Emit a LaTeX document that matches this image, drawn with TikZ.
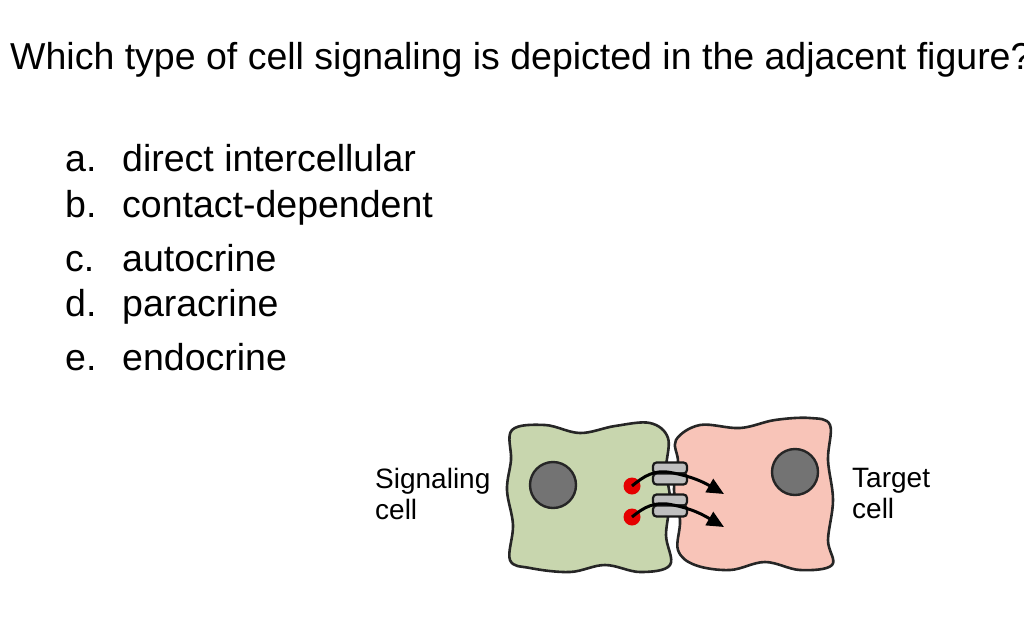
\documentclass[tikz,border=0pt]{standalone}
\usepackage{fontspec}
\setmainfont{Liberation Sans}
\usetikzlibrary{arrows.meta}
\newcommand{\itm}[1]{\makebox[57pt][l]{#1}}
\begin{document}
\begin{tikzpicture}[x=1pt,y=-1pt,
  txt/.style={anchor=west,inner sep=0pt,font=\fontsize{37.5}{40}\selectfont},
  lbl/.style={anchor=north west,inner sep=0pt,align=left,font=\fontsize{28}{30}\selectfont},
  cellout/.style={draw=black!85,line width=2.6pt},
  nuc/.style={circle,draw=black!85,line width=2.4pt,fill=black!55,minimum size=46pt,inner sep=0pt},
  dot/.style={circle,fill=red!90!black,minimum size=17pt,inner sep=0pt},
  chan/.style={draw=black!90,line width=2.2pt,fill=black!25,rounded corners=3.5pt,minimum width=34pt,minimum height=11pt,inner sep=0pt},
  sig/.style={line width=3pt,-{Triangle[length=17pt,width=15pt]}}]
\useasboundingbox (0,0) rectangle (1024,635);
\node[txt] (q) at (10,60) {Which type of cell signaling is depicted in the adjacent figure?};
\node[txt] (a) at (65,158) {\itm{a.}direct intercellular};
\node[txt] (b) at (65,208) {\itm{b.}contact-dependent};
\node[txt] (c) at (65,258) {\itm{c.}autocrine};
\node[txt] (d) at (65,307) {\itm{d.}paracrine};
\node[txt] (e) at (65,357) {\itm{e.}endocrine};
% pink cell
\draw[cellout,fill={rgb,255:red,248;green,196;blue,184}] plot[smooth cycle,tension=0.6] coordinates
 {(676,440) (700,425) (740,428) (775,420) (810,418) (830,425) (828,460) (833,500) (828,540) (832,565) (800,570) (765,562) (730,570) (695,565) (678,550) (680,520) (674,490) (678,462)};
% green cell
\draw[cellout,fill={rgb,255:red,200;green,214;blue,174}] plot[smooth cycle,tension=0.6] coordinates
 {(512,430) (545,425) (580,433) (615,426) (650,423) (668,438) (666,470) (670,500) (666,535) (670,565) (640,572) (605,565) (570,572) (530,568) (510,560) (513,525) (507,490) (511,460)};
\node[nuc] (n1) at (553,485) {};
\node[nuc] (n2) at (795,472) {};
\node[dot] (r1) at (632,486) {};
\node[dot] (r2) at (632,517) {};
\node[chan] (c1) at (670,468) {};
\node[chan] (c2) at (670,479) {};
\node[chan] (c3) at (670,500) {};
\node[chan] (c4) at (670,511) {};
\coordinate (t1) at (724,494);
\coordinate (t2) at (724,527);
\draw[sig] (r1.center) to[out=40,in=170] (c2.north) to[out=-10,in=150] (t1);
\draw[sig] (r2.center) to[out=40,in=170] (c4.north) to[out=-10,in=150] (t2);
\node[lbl] (s) at (375,468) {Signaling\\[1pt]cell};
\node[lbl] (t) at (852,468) {Target\\[1pt]cell};
\end{tikzpicture}
\end{document}
